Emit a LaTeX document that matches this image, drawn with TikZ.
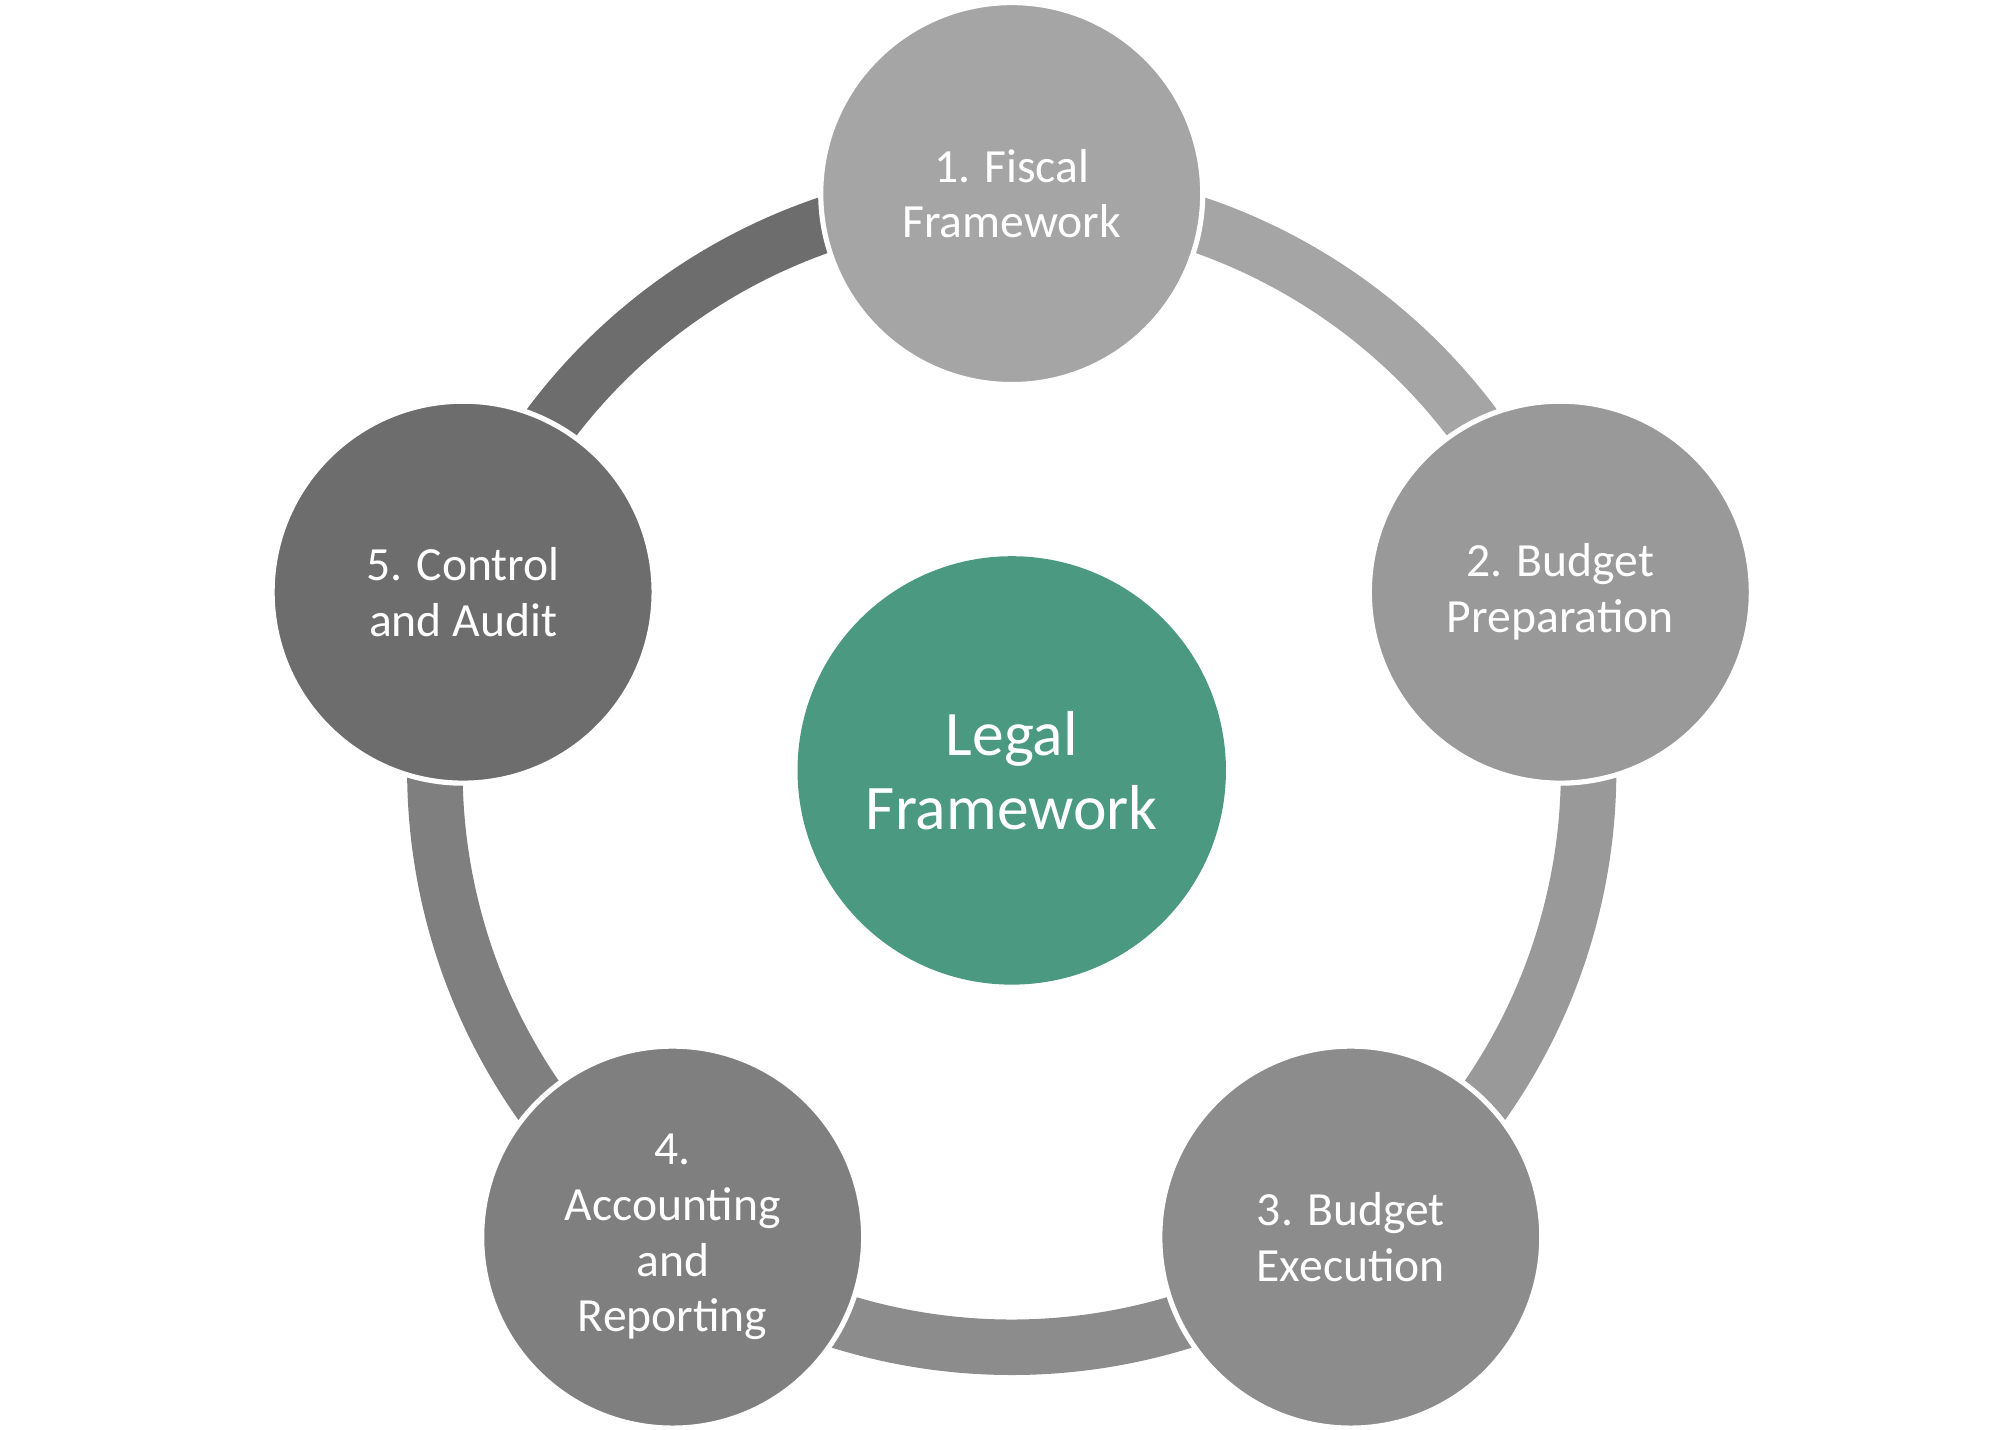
\documentclass[tikz,border=0pt]{standalone}
\usepackage{fontspec}
\setmainfont{Carlito}
\usetikzlibrary{backgrounds}
\definecolor{stepa}{HTML}{A5A5A5}
\definecolor{stepb}{HTML}{999999}
\definecolor{stepc}{HTML}{8C8C8C}
\definecolor{stepd}{HTML}{7F7F7F}
\definecolor{stepe}{HTML}{6D6D6D}
\definecolor{legal}{HTML}{4A9980}
\tikzset{
	phase/.style={circle, draw=white, line width=0.04cm, inner sep=0pt, minimum size=2.96cm, text=white, align=center, font=\fontsize{10.5}{12.3}\selectfont},
	hub/.style={circle, inner sep=0pt, minimum size=3.32cm, fill=legal, text=white, align=center, font=\fontsize{14}{16.3}\selectfont},
	ring/.style={line width=0.43cm}
}
\begin{document}
\begin{tikzpicture}

	\useasboundingbox (-7.84,-5.11) rectangle (7.72,5.97);

	\node 	(lf)	at	(0,0)		[hub]{Legal\\Framework};

	\node 	(s1)	at	(90:4.47)	[phase, fill=stepa]{1. Fiscal\\Framework};
	\node 	(s2)	at	(18:4.47)	[phase, fill=stepb]{2. Budget\\Preparation};
	\node 	(s3)	at	(-54:4.47)	[phase, fill=stepc]{3. Budget\\Execution};
	\node 	(s4)	at	(-126:4.47)	[phase, fill=stepd]{4.\\Accounting\\and\\Reporting};
	\node 	(s5)	at	(162:4.47)	[phase, fill=stepe]{5. Control\\and Audit};

	\begin{pgfonlayer}{background}
	\draw[ring, stepa]	(s1.center)	arc[start angle=90, end angle=18, radius=4.47];
	\draw[ring, stepb]	(s2.center)	arc[start angle=18, end angle=-54, radius=4.47];
	\draw[ring, stepc]	(s3.center)	arc[start angle=-54, end angle=-126, radius=4.47];
	\draw[ring, stepd]	(s4.center)	arc[start angle=-126, end angle=-198, radius=4.47];
	\draw[ring, stepe]	(s5.center)	arc[start angle=162, end angle=90, radius=4.47];
	\end{pgfonlayer}

\end{tikzpicture}
\end{document}
